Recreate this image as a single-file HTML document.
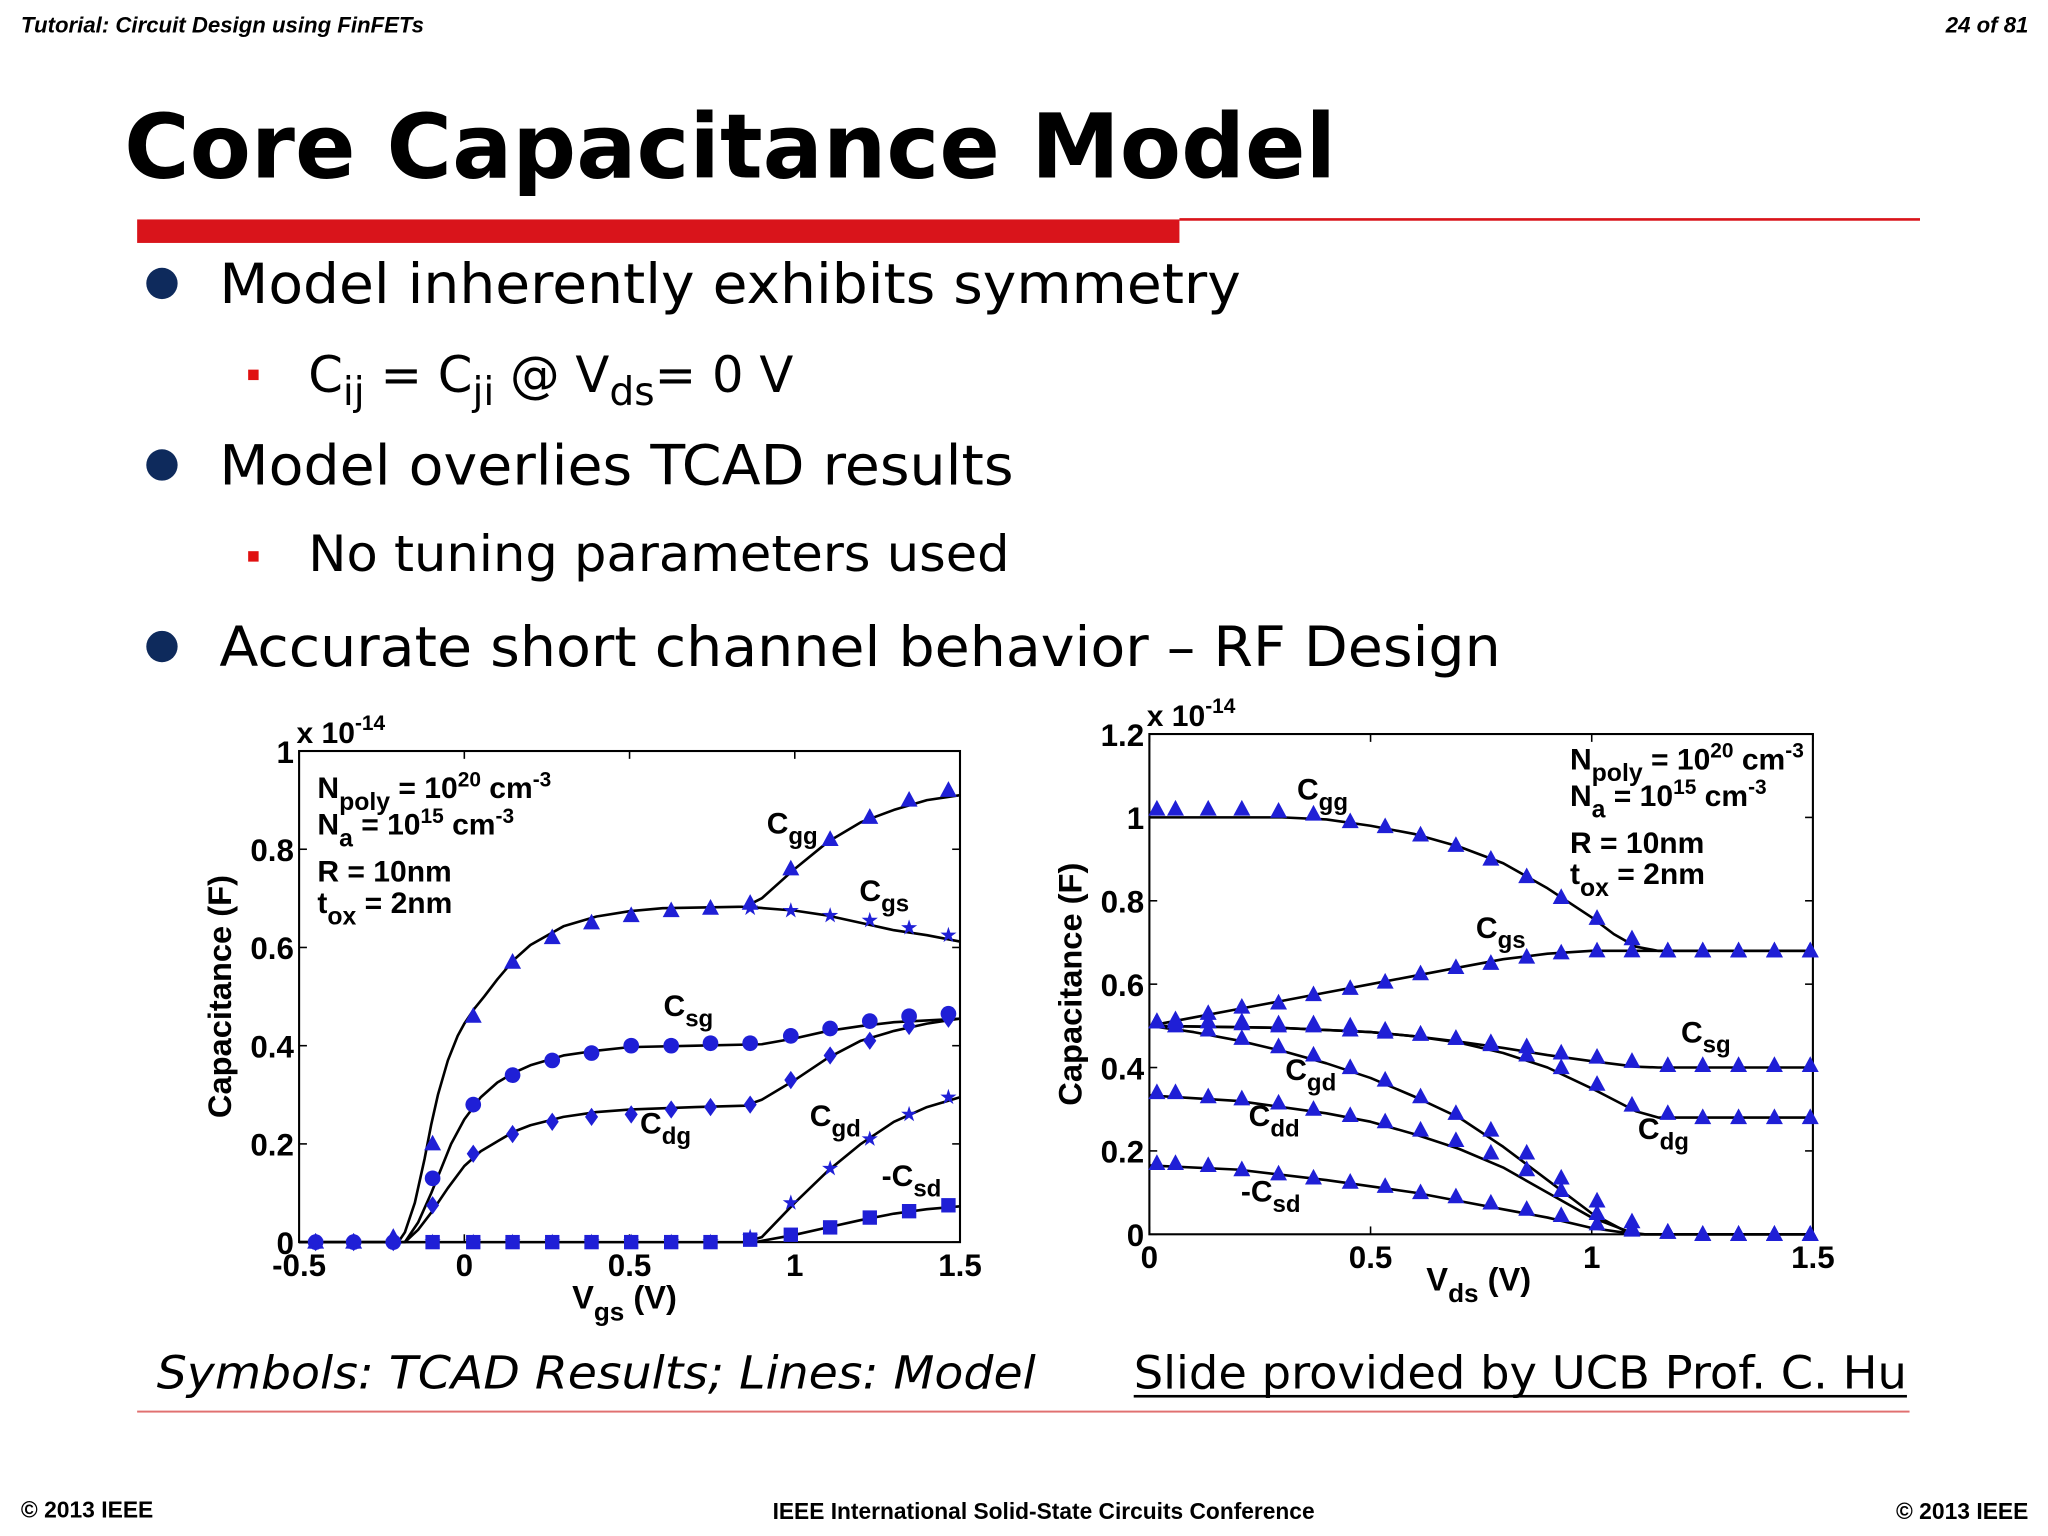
<!DOCTYPE html>
<html><head><meta charset="utf-8"><style>
html,body{margin:0;padding:0;background:#fff;}
svg{display:block;}
.t{font-family:"DejaVu Sans","Liberation Sans",sans-serif;}
.a{font-family:"Liberation Sans",Arial,sans-serif;font-weight:bold;}
</style></head><body>
<svg id="slide" width="2048" height="1536" viewBox="0 0 1568 1176" preserveAspectRatio="none" xmlns="http://www.w3.org/2000/svg">
<rect width="1568" height="1176" fill="#fff"/>
<text class="a" x="16" y="25" font-size="17" font-style="italic">Tutorial: Circuit Design using FinFETs</text>
<text class="a" x="1553" y="25" font-size="17" font-style="italic" text-anchor="end">24 of 81</text>
<text class="t" x="95" y="136" font-size="68" font-weight="bold" textLength="928" lengthAdjust="spacingAndGlyphs">Core Capacitance Model</text>
<rect x="105" y="168" width="798" height="18" fill="#d9141b"/>
<rect x="903" y="167" width="567" height="2" fill="#d9141b"/>
<g class="t">
<circle cx="124" cy="217" r="12" fill="#0e2a5c"/>
<text x="168" y="232" font-size="42" textLength="782" lengthAdjust="spacingAndGlyphs">Model inherently exhibits symmetry</text>
<rect x="190" y="283" width="8" height="8" fill="#e01010"/>
<text x="236" y="300" font-size="38">C<tspan font-size="30" dy="10">ij</tspan><tspan dy="-10"> = C</tspan><tspan font-size="30" dy="10">ji</tspan><tspan dy="-10"> @ V</tspan><tspan font-size="30" dy="10">ds</tspan><tspan dy="-10">= 0 V</tspan></text>
<circle cx="124" cy="356" r="12" fill="#0e2a5c"/>
<text x="168" y="371" font-size="42" textLength="608" lengthAdjust="spacingAndGlyphs">Model overlies TCAD results</text>
<rect x="190" y="422" width="8" height="8" fill="#e01010"/>
<text x="236" y="437" font-size="38" textLength="537" lengthAdjust="spacingAndGlyphs">No tuning parameters used</text>
<circle cx="124" cy="495" r="12" fill="#0e2a5c"/>
<text x="168" y="510" font-size="42" textLength="981" lengthAdjust="spacingAndGlyphs">Accurate short channel behavior – RF Design</text>
</g>
<g id="plotL"></g>
<g id="plotR"></g>
<text class="t" x="120" y="1063" font-size="35" font-style="italic" textLength="673" lengthAdjust="spacingAndGlyphs">Symbols: TCAD Results;  Lines: Model</text>
<text class="t" x="868" y="1063" font-size="35" textLength="592" lengthAdjust="spacingAndGlyphs">Slide provided by UCB Prof. C. Hu</text>
<rect x="868" y="1068" width="592" height="2" fill="#000"/>
<rect x="105" y="1080" width="1357" height="1.5" fill="#e07070"/>
<text class="a" x="16" y="1162" font-size="17.5">© 2013 IEEE</text>
<text class="a" x="799" y="1163" font-size="17.5" text-anchor="middle" textLength="415" lengthAdjust="spacingAndGlyphs">IEEE International Solid-State Circuits Conference</text>
<text class="a" x="1553" y="1163" font-size="17.5" text-anchor="end">© 2013 IEEE</text>
</svg>
<script>
// ---- Left chart data (Vgs sweep) ----
const L_markX = [-0.45,-0.335,-0.215,-0.096,0.027,0.146,0.266,0.385,0.505,0.626,0.745,0.865,0.988,1.107,1.227,1.346,1.465];
const L_cggMark = [0,0,0.01,0.2,0.46,0.57,0.62,0.65,0.665,0.675,0.68,0.69,0.76,0.82,0.865,0.9,0.92];
const L_cgsMark = [null,null,null,null,null,null,null,null,null,null,null,0.68,0.675,0.665,0.655,0.64,0.625];
const L_csgMark = [0,0,0,0.13,0.28,0.34,0.37,0.385,0.4,0.4,0.405,0.405,0.42,0.435,0.45,0.46,0.465];
const L_cdgMark = [0,0,0,0.075,0.18,0.22,0.245,0.255,0.26,0.27,0.275,0.28,0.33,0.38,0.41,0.44,0.455];
const L_cgdMark = [0,0,0,0,0,0,0,0,0,0,0,0.01,0.08,0.15,0.21,0.26,0.295];
const L_csdMark = [null,null,null,0,0,0,0,0,0,0,0,0.005,0.015,0.03,0.05,0.063,0.075];
const L_cggLineX = [-0.5,-0.2,-0.18,-0.15,-0.12,-0.1,-0.08,-0.05,-0.02,0,0.03,0.06,0.1,0.15,0.2,0.3,0.4,0.5,0.6,0.85,0.9,1.0,1.1,1.2,1.3,1.4,1.5];
const L_cggLineY = [0,0,0.02,0.08,0.17,0.24,0.3,0.37,0.42,0.445,0.475,0.5,0.535,0.575,0.605,0.643,0.663,0.674,0.68,0.683,0.7,0.76,0.815,0.855,0.88,0.9,0.91];
const L_cgsLineX = [0.85,1.0,1.1,1.2,1.3,1.4,1.5];
const L_cgsLineY = [0.683,0.675,0.665,0.65,0.635,0.625,0.612];
const L_csgLineX = [-0.5,-0.18,-0.14,-0.1,-0.07,-0.04,0,0.05,0.1,0.15,0.2,0.3,0.4,0.5,0.7,0.9,1.0,1.1,1.2,1.3,1.5];
const L_csgLineY = [0,0,0.04,0.1,0.15,0.2,0.25,0.295,0.325,0.345,0.36,0.38,0.39,0.397,0.4,0.403,0.415,0.43,0.44,0.448,0.455];
const L_cdgLineX = [-0.5,-0.18,-0.14,-0.1,-0.05,0,0.05,0.1,0.15,0.2,0.3,0.4,0.5,0.7,0.85,0.9,1.0,1.1,1.2,1.3,1.4,1.5];
const L_cdgLineY = [0,0,0.025,0.06,0.11,0.155,0.185,0.205,0.225,0.238,0.255,0.265,0.27,0.275,0.278,0.29,0.33,0.375,0.41,0.43,0.445,0.455];
const L_cgdLineX = [-0.5,0.85,0.9,1.0,1.1,1.2,1.3,1.4,1.5];
const L_cgdLineY = [0,0,0.01,0.08,0.145,0.2,0.245,0.275,0.295];
const L_csdLineX = [0.88,1.0,1.1,1.2,1.3,1.4,1.5];
const L_csdLineY = [0,0.015,0.03,0.045,0.058,0.067,0.073];
const L_xTicks = [-0.5,0,0.5,1,1.5];
const L_xTickLabels = ["-0.5","0","0.5","1","1.5"];
const L_yTicks = [0,0.2,0.4,0.6,0.8,1];
const L_yTickLabels = ["0","0.2","0.4","0.6","0.8","1"];

// ---- Right chart data (Vds sweep) ----
const R_markX = [0.017,0.059,0.133,0.209,0.292,0.371,0.454,0.533,0.613,0.693,0.772,0.853,0.931,1.012,1.091,1.172,1.251,1.332,1.413,1.494];
const R_cggMark = [1.02,1.02,1.02,1.02,1.015,1.008,0.99,0.978,0.958,0.933,0.9,0.858,0.808,0.758,0.709,0.68,0.68,0.68,0.68,0.68];
const R_cgsMark = [0.51,0.515,0.53,0.545,0.555,0.575,0.59,0.605,0.625,0.64,0.65,0.665,0.675,0.68,0.68,0.68,0.68,0.68,0.68,0.68];
const R_csgMark = [0.51,0.51,0.51,0.51,0.505,0.505,0.5,0.49,0.48,0.47,0.46,0.45,0.435,0.425,0.415,0.405,0.405,0.405,0.405,0.405];
const R_cdgMark = [0.51,0.51,0.51,0.505,0.5,0.5,0.49,0.485,0.48,0.47,0.455,0.43,0.4,0.36,0.31,0.29,0.28,0.28,0.28,0.28];
const R_cgdMark = [0.51,0.5,0.49,0.47,0.45,0.43,0.4,0.37,0.33,0.29,0.25,0.195,0.135,0.08,0.03,0.005,0,0,0,0];
const R_cddMark = [0.34,0.34,0.33,0.325,0.315,0.3,0.285,0.27,0.25,0.225,0.195,0.155,0.105,0.05,0.015,0.005,0,0,0,0];
const R_csdMark = [0.17,0.17,0.165,0.155,0.145,0.135,0.125,0.115,0.1,0.09,0.075,0.06,0.045,0.025,0.01,0.005,0,0,0,0];
const R_cggLineX = [0,0.3,0.4,0.5,0.6,0.7,0.8,0.9,1.0,1.05,1.1,1.15,1.5];
const R_cggLineY = [1.0,1.0,0.995,0.98,0.96,0.93,0.89,0.83,0.76,0.72,0.69,0.68,0.68];
const R_cgsLineX = [0,0.1,0.2,0.3,0.4,0.5,0.6,0.7,0.8,0.9,1.0,1.5];
const R_cgsLineY = [0.5,0.52,0.54,0.56,0.58,0.6,0.62,0.64,0.66,0.673,0.68,0.68];
const R_csgLineX = [0,0.3,0.5,0.6,0.7,0.8,0.9,1.0,1.1,1.15,1.5];
const R_csgLineY = [0.5,0.495,0.485,0.475,0.462,0.447,0.43,0.415,0.402,0.4,0.4];
const R_cdgLineX = [0,0.3,0.5,0.6,0.7,0.8,0.9,1.0,1.1,1.15,1.5];
const R_cdgLineY = [0.5,0.495,0.485,0.475,0.46,0.435,0.4,0.35,0.295,0.28,0.28];
const R_cgdLineX = [0,0.1,0.2,0.3,0.4,0.5,0.6,0.7,0.8,0.9,1.0,1.08,1.12,1.5];
const R_cgdLineY = [0.5,0.485,0.465,0.44,0.41,0.375,0.33,0.28,0.21,0.13,0.05,0.005,0,0];
const R_cddLineX = [0,0.2,0.4,0.5,0.6,0.7,0.8,0.9,1.0,1.1,1.5];
const R_cddLineY = [0.333,0.32,0.29,0.27,0.24,0.205,0.16,0.1,0.04,0,0];
const R_csdLineX = [0,0.2,0.4,0.5,0.6,0.7,0.8,0.9,1.0,1.1,1.5];
const R_csdLineY = [0.165,0.155,0.13,0.115,0.1,0.08,0.06,0.04,0.015,0,0];
const R_xTicks = [0,0.5,1,1.5];
const R_xTickLabels = ["0","0.5","1","1.5"];
const R_yTicks = [0,0.2,0.4,0.6,0.8,1,1.2];
const R_yTickLabels = ["0","0.2","0.4","0.6","0.8","1","1.2"];

const NS = "http://www.w3.org/2000/svg";
const BLUE = "#1f1fd6";
function mk(tag, parent, attrs){ const e=document.createElementNS(NS,tag); for(const k in attrs) e.setAttribute(k,attrs[k]); parent.appendChild(e); return e; }

function marker(g, type, cx, cy){
  let e;
  if(type==="tri"){ e=mk("polygon",g,{points:`${cx},${cy-7} ${cx-6.5},${cy+5} ${cx+6.5},${cy+5}`,fill:BLUE}); }
  else if(type==="circ"){ e=mk("circle",g,{cx:cx,cy:cy,r:6,fill:BLUE}); }
  else if(type==="dia"){ e=mk("polygon",g,{points:`${cx},${cy-7} ${cx+5},${cy} ${cx},${cy+7} ${cx-5},${cy}`,fill:BLUE}); }
  else if(type==="sq"){ e=mk("rect",g,{x:cx-5.5,y:cy-5.5,width:11,height:11,fill:BLUE}); }
  else { let p=[]; for(let i=0;i<10;i++){ const r=i%2?2.5:6.5; const a=-Math.PI/2+i*Math.PI/5; p.push((cx+r*Math.cos(a)).toFixed(1)+","+(cy+r*Math.sin(a)).toFixed(1)); } e=mk("polygon",g,{points:p.join(" "),fill:BLUE}); }
  
  
}

function label(g, x, y, main, sub, name, size){
  const t=mk("text",g,{x:x,y:y,class:"a","font-size":size||23});
  
  
  t.appendChild(document.createTextNode(main));
  if(sub){ const s=mk("tspan",t,{dy:8,"font-size":(size||23)*0.8}); s.textContent=sub; }
  return t;
}

function drawChart(id, box, xd, yd, xTicks, xLab, yTicks, yLab, series, labels, info, xTitle){
  const g=document.getElementById(id);
  const sx=v=>box.x0+(v-xd[0])/(xd[1]-xd[0])*(box.x1-box.x0);
  const sy=v=>box.y1-(v-yd[0])/(yd[1]-yd[0])*(box.y1-box.y0);
  const fr=mk("rect",g,{x:box.x0,y:box.y0,width:box.x1-box.x0,height:box.y1-box.y0,fill:"none",stroke:"#000","stroke-width":1.6});
  
  
  xTicks.forEach((v,i)=>{
    const X=sx(v);
    mk("line",g,{x1:X,y1:box.y1,x2:X,y2:box.y1-6,stroke:"#000","stroke-width":1.2});
    mk("line",g,{x1:X,y1:box.y0,x2:X,y2:box.y0+6,stroke:"#000","stroke-width":1.2});
    const t=mk("text",g,{x:X,y:box.y1+26,class:"a","font-size":24,"text-anchor":"middle"});
    
    
    t.textContent=xLab[i];
  });
  yTicks.forEach((v,i)=>{
    const Y=sy(v);
    mk("line",g,{x1:box.x0,y1:Y,x2:box.x0+6,y2:Y,stroke:"#000","stroke-width":1.2});
    mk("line",g,{x1:box.x1,y1:Y,x2:box.x1-6,y2:Y,stroke:"#000","stroke-width":1.2});
    const t=mk("text",g,{x:box.x0-4,y:Y+9,class:"a","font-size":24,"text-anchor":"end"});
    
    
    t.textContent=yLab[i];
  });
  series.forEach(s=>{
    const d=s.lx.map((v,i)=>(i?"L":"M")+sx(v).toFixed(1)+","+sy(s.ly[i]).toFixed(1)).join("");
    const p=mk("path",g,{d:d,fill:"none",stroke:"#000","stroke-width":2,"stroke-linejoin":"round"});
    
    
  });
  series.forEach(s=>{
    const mg=mk("g",g,{});
    
    
    s.mx.forEach((v,i)=>{ if(s.my[i]!==null) marker(mg,s.type,sx(v),sy(s.my[i])); });
  });
  labels.forEach(l=>label(g,l[0],l[1],l[2],l[3],l[4]));
  const m=mk("text",g,{x:box.x0-2,y:box.y0-6,class:"a","font-size":23});
  
  
  m.appendChild(document.createTextNode("x 10"));
  const ms=mk("tspan",m,{dy:-10,"font-size":16}); ms.textContent="-14";
  const ig=mk("g",g,{});  
  const ix=info[0], iy=info[1];
  let t=mk("text",ig,{x:ix,y:iy,class:"a","font-size":23}); t.innerHTML='N<tspan dy="9" font-size="19">poly</tspan><tspan dy="-9"> = 10</tspan><tspan dy="-9" font-size="16">20</tspan><tspan dy="9"> cm</tspan><tspan dy="-9" font-size="16">-3</tspan>';
  t=mk("text",ig,{x:ix,y:iy+28,class:"a","font-size":23}); t.innerHTML='N<tspan dy="9" font-size="19">a</tspan><tspan dy="-9"> = 10</tspan><tspan dy="-9" font-size="16">15</tspan><tspan dy="9"> cm</tspan><tspan dy="-9" font-size="16">-3</tspan>';
  t=mk("text",ig,{x:ix,y:iy+64,class:"a","font-size":23}); t.textContent='R = 10nm';
  t=mk("text",ig,{x:ix,y:iy+88,class:"a","font-size":23}); t.innerHTML='t<tspan dy="9" font-size="19">ox</tspan><tspan dy="-9"> = 2nm</tspan>';
  const cy=(box.y0+box.y1)/2;
  const yt=mk("text",g,{x:box.x0-52,y:cy,class:"a","font-size":25,"text-anchor":"middle",transform:`rotate(-90 ${box.x0-52} ${cy})`});
    yt.textContent="Capacitance (F)";
  const xt=mk("text",g,{x:xTitle[0],y:xTitle[1],class:"a","font-size":25});
   
  xt.innerHTML='V<tspan dy="9" font-size="20">'+xTitle[2]+'</tspan><tspan dy="-9"> (V)</tspan>';
}

drawChart("plotL",{x0:229,x1:735,y0:575,y1:951},[-0.5,1.5],[0,1],L_xTicks,L_xTickLabels,L_yTicks,L_yTickLabels,[
 {name:"cgg",type:"tri",lx:L_cggLineX,ly:L_cggLineY,mx:L_markX,my:L_cggMark},
 {name:"cgs",type:"star",lx:L_cgsLineX,ly:L_cgsLineY,mx:L_markX,my:L_cgsMark},
 {name:"csg",type:"circ",lx:L_csgLineX,ly:L_csgLineY,mx:L_markX,my:L_csgMark},
 {name:"cdg",type:"dia",lx:L_cdgLineX,ly:L_cdgLineY,mx:L_markX,my:L_cdgMark},
 {name:"cgd",type:"star",lx:L_cgdLineX,ly:L_cgdLineY,mx:L_markX,my:L_cgdMark},
 {name:"csd",type:"sq",lx:L_csdLineX,ly:L_csdLineY,mx:L_markX,my:L_csdMark}
],[[587,638,"C","gg","label-cgg"],[658,690,"C","gs","label-cgs"],[508,778,"C","sg","label-csg"],[490,868,"C","dg","label-cdg"],[620,862,"C","gd","label-cgd"],[675,908,"-C","sd","label-csd"]],[243,611],[438,1002,"gs"]);

drawChart("plotR",{x0:880,x1:1388,y0:562,y1:945},[0,1.5],[0,1.2],R_xTicks,R_xTickLabels,R_yTicks,R_yTickLabels,[
 {name:"cgg",type:"tri",lx:R_cggLineX,ly:R_cggLineY,mx:R_markX,my:R_cggMark},
 {name:"cgs",type:"tri",lx:R_cgsLineX,ly:R_cgsLineY,mx:R_markX,my:R_cgsMark},
 {name:"csg",type:"tri",lx:R_csgLineX,ly:R_csgLineY,mx:R_markX,my:R_csgMark},
 {name:"cdg",type:"tri",lx:R_cdgLineX,ly:R_cdgLineY,mx:R_markX,my:R_cdgMark},
 {name:"cgd",type:"tri",lx:R_cgdLineX,ly:R_cgdLineY,mx:R_markX,my:R_cgdMark},
 {name:"cdd",type:"tri",lx:R_cddLineX,ly:R_cddLineY,mx:R_markX,my:R_cddMark},
 {name:"csd",type:"tri",lx:R_csdLineX,ly:R_csdLineY,mx:R_markX,my:R_csdMark}
],[[993,612,"C","gg","label-cgg"],[1130,718,"C","gs","label-cgs"],[1287,798,"C","sg","label-csg"],[1254,872,"C","dg","label-cdg"],[984,827,"C","gd","label-cgd"],[956,862,"C","dd","label-cdd"],[950,920,"-C","sd","label-csd"]],[1202,589],[1092,988,"ds"]);
</script>
</body></html>
